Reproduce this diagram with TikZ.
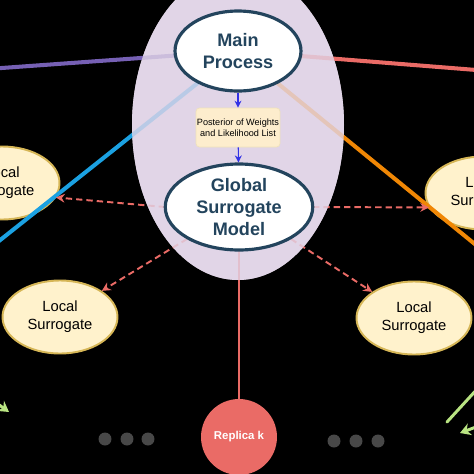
\documentclass[tikz,border=0pt]{standalone}
\usepackage{fontspec}
\setmainfont{Liberation Sans}
\usetikzlibrary{shapes.geometric,arrows.meta}

\definecolor{navy}{RGB}{35,68,93}
\definecolor{lavender}{RGB}{225,213,231}
\definecolor{cream}{RGB}{255,242,204}
\definecolor{gold}{RGB}{214,182,86}
\definecolor{peach}{RGB}{253,237,205}
\definecolor{salmon}{RGB}{234,107,102}
\definecolor{linkpurple}{RGB}{118,96,180}
\definecolor{linkblue}{RGB}{27,161,226}
\definecolor{linkorange}{RGB}{240,135,5}
\definecolor{linkgreen}{RGB}{185,228,130}
\definecolor{dotgray}{RGB}{72,72,72}
\definecolor{flowblue}{RGB}{50,50,230}

\begin{document}
\begin{tikzpicture}[x=0.02cm,y=-0.02cm,
  bignode/.style={ellipse,draw=navy,line width=1.8pt,fill=white,text=navy,align=center,inner sep=0pt,
    font=\bfseries\fontsize{10.3}{12.5}\selectfont},
  localnode/.style={ellipse,draw=gold,line width=1.1pt,fill=cream,align=center,inner sep=0pt,
    minimum width=2.3cm,minimum height=1.46cm,font=\fontsize{8.4}{10.2}\selectfont},
  dotnode/.style={circle,fill=dotgray,minimum size=0.26cm,inner sep=0pt},
  link/.style={line width=2.3pt},
  sendarrow/.style={salmon,line width=1.1pt,dash pattern=on 3.6pt off 2.3pt,-{Stealth[length=5pt,width=5pt]}},
  flowarrow/.style={flowblue,line width=0.6pt,-{Stealth[length=4pt,width=4pt]}},
  greenlink/.style={linkgreen,line width=1.7pt,line cap=round}]
\useasboundingbox (0,0) rectangle (474,474);
\clip (0,0) rectangle (474,474);
\fill[black] (0,0) rectangle (474,474);
\fill[lavender] (238,125) ellipse [x radius=106,y radius=155];

\coordinate (outW) at (-40,71);
\coordinate (outSW) at (-40,272);
\coordinate (outE) at (514,73);
\coordinate (outSE) at (514,276);
\coordinate (greenA) at (-30,384);
\coordinate (greenB) at (9,412);
\coordinate (greenC) at (490,375);
\coordinate (greenD) at (447,422);
\coordinate (greenE) at (492,421);
\coordinate (greenF) at (460,433);

\node[localnode] (locL) at (2,183) {Local\\Surrogate};
\node[localnode] (locR) at (483,193) {Local\\Surrogate};
\node[localnode] (locBL) at (60,317) {Local\\Surrogate};
\node[localnode] (locBR) at (414,318) {Local\\Surrogate};

\node[circle,fill=salmon,text=white,minimum size=1.52cm,inner sep=0pt,
  font=\bfseries\fontsize{6.5}{8}\selectfont] (replica) at (239,437) {Replica k};

\node[dotnode] (dotL1) at (105,439) {};
\node[dotnode] (dotL2) at (127,439) {};
\node[dotnode] (dotL3) at (148,439) {};
\node[dotnode] (dotR1) at (334,441) {};
\node[dotnode] (dotR2) at (356,441) {};
\node[dotnode] (dotR3) at (378,441) {};

\coordinate (mainC) at (238,51);
\coordinate (globC) at (239,207);

\draw[link,linkpurple] (mainC) -- (outW);
\draw[link,linkblue] (mainC) -- (outSW);
\draw[link,salmon] (mainC) -- (outE);
\draw[link,linkorange] (mainC) -- (outSE);
\draw[salmon,line width=1.7pt] (globC) -- (replica.north);

\draw[sendarrow] (globC) ++(-74,0) -- (locL.-15);
\draw[sendarrow] (globC) ++(74,0) -- (locR.195);
\draw[sendarrow] (globC) ++(-52,32) -- (locBL.32);
\draw[sendarrow] (globC) ++(52,32) -- (locBR.148);

\draw[greenlink,-{Stealth[length=6pt,width=7pt,inset=2pt]}] (greenA) -- (greenB);
\draw[greenlink] (greenC) -- (greenD);
\draw[greenlink,-{Stealth[length=6pt,width=7pt,inset=2pt]}] (greenE) -- (greenF);

% faded part of the links behind the main cluster
\fill[lavender,opacity=0.8] (238,125) ellipse [x radius=106,y radius=155];

\node[bignode,minimum width=2.52cm,minimum height=1.6cm] (main) at (mainC) {Main\\Process};
\node[bignode,minimum width=2.95cm,minimum height=1.72cm] (glob) at (globC) {Global\\Surrogate\\Model};
\node[draw=gold!40,fill=peach,rounded corners=2pt,line width=0.4pt,align=center,inner sep=0pt,
  minimum width=1.68cm,minimum height=0.78cm,font=\fontsize{5.2}{6.2}\selectfont] (post) at (238,127.5)
  {Posterior of Weights\\and Likelihood List};

\draw[flowarrow] (main) -- (post);
\draw[flowarrow] (post) -- (glob);
\end{tikzpicture}
\end{document}
